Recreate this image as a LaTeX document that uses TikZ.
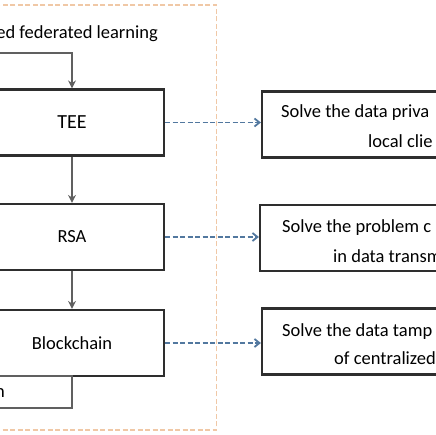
\documentclass[tikz,border=0pt]{standalone}
\usepackage{fontspec}
\setmainfont{Carlito}
\usetikzlibrary{arrows.meta}
\definecolor{frameorange}{HTML}{F0C8A6}
\definecolor{boxline}{HTML}{2E2E2E}
\definecolor{flowgray}{HTML}{606060}
\definecolor{linkblue}{HTML}{52789F}
\tikzset{
  stagebox/.style={draw=boxline, line width=2.2bp, minimum width=184bp, minimum height=66bp, inner sep=0pt, font=\fontsize{18.5bp}{22bp}\selectfont},
  goalbox/.style={draw=boxline, line width=2.2bp, minimum width=220bp, minimum height=66bp, inner sep=0pt},
  goaltext/.style={anchor=west, inner sep=0pt, font=\fontsize{18.5bp}{22bp}\selectfont},
  flow/.style={draw=flowgray, line width=1.3bp, -{Stealth[length=8bp,width=8bp]}},
  link/.style={draw=linkblue, line width=1.8bp, dash pattern=on 5bp off 2.5bp, -{Straight Barb[length=5bp,width=8bp]}},
  frame/.style={draw=frameorange, line width=1.6bp, dash pattern=on 5bp off 2.5bp}
}
\begin{document}
\begin{tikzpicture}[x=1bp, y=-1bp]
\useasboundingbox (0,0) rectangle (435,435);
\fill[white] (0,0) rectangle (435,435);
% outer dashed frame
\draw[frame] (-60,5) rectangle (216.5,430);
% title
\node[anchor=east, inner sep=0pt, font=\fontsize{18.5bp}{22bp}\selectfont] (title) at (158,34) {ed federated learning};
\coordinate (titleline) at (-10,53);
% stage boxes
\node[stagebox] (tee) at (72,122.5) {\fontsize{20bp}{24bp}\selectfont TEE};
\node[stagebox] (rsa) at (72,237) {RSA};
\node[stagebox] (chain) at (72,343) {Blockchain};
% bottom box
\node[draw=flowgray, line width=1.5bp, minimum width=172bp, minimum height=32bp, inner sep=0pt] (bottom) at (-14,392) {};
\node[anchor=east, inner sep=0pt, font=\fontsize{18.5bp}{22bp}\selectfont] (bottomtext) at (5,393) {n};
% goal boxes
\node[goalbox] (g1) at (372,124.5) {};
\node[goalbox] (g2) at (370,238) {};
\node[goalbox] (g3) at (372,341.5) {};
\node[goaltext] (g1a) at (281,113) {Solve the data priva};
\node[goaltext] (g1b) at (368,141) {local clie};
\node[goaltext] (g2a) at (282,228) {Solve the problem c};
\node[goaltext] (g2b) at (333,256) {in data transm};
\node[goaltext] (g3a) at (282,332) {Solve the data tamp};
\node[goaltext] (g3b) at (334,358) {of centralized};
% flow arrows
\draw[flow] (titleline) -| (tee.north);
\draw[flow] (tee.south) -- (rsa.north);
\draw[flow] (rsa.south) -- (chain.north);
% dashed links
\draw[link] (tee.east) -- (tee.east -| g1.west);
\draw[link] (rsa.east) -- (rsa.east -| g2.west);
\draw[link] (chain.east) -- (chain.east -| g3.west);
\end{tikzpicture}
\end{document}
